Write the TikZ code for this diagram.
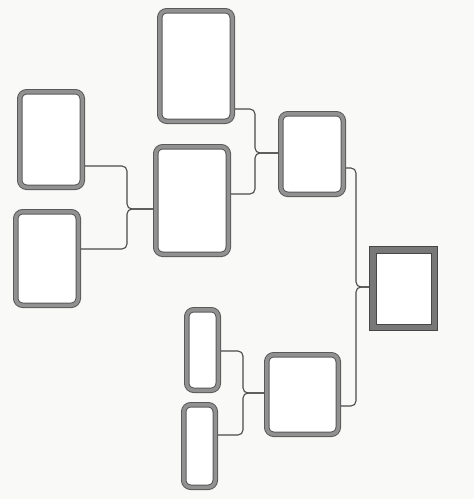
\documentclass[tikz,border=0pt]{standalone}
\definecolor{bgpaper}{RGB}{249,249,248}
\definecolor{edgedark}{RGB}{90,90,90}
\definecolor{edgemid}{RGB}{145,145,145}
\definecolor{framedark}{RGB}{70,70,70}
\definecolor{framemid}{RGB}{120,120,120}
\definecolor{linedark}{RGB}{75,75,75}
\begin{document}
\begin{tikzpicture}[x=1pt,y=-1pt,
  card/.style={draw=edgedark, line width=1pt, double=edgemid, double distance=3.5pt,
    rounded corners=7pt, inner sep=0pt, outer sep=2.75pt, fill=white},
  framebox/.style={draw=framedark, line width=1pt, double=framemid, double distance=5.5pt,
    inner sep=0pt, outer sep=3.75pt, fill=white},
  conn/.style={draw=linedark, line width=1.1pt, rounded corners=5pt}]
\fill[bgpaper] (0,0) rectangle (474,499);
\useasboundingbox (0,0) rectangle (474,499);
% boxes
\node[card, minimum width=62.5pt, minimum height=95.5pt] (A) at (51,139.5) {};
\node[card, minimum width=62.5pt, minimum height=93.5pt] (B) at (47,258.5) {};
\node[card, minimum width=72.5pt, minimum height=110.5pt] (C) at (196,66) {};
\node[card, minimum width=72.5pt, minimum height=107.5pt] (D) at (192,200.5) {};
\node[card, minimum width=62.5pt, minimum height=80.5pt] (E) at (312,154) {};
\node[framebox, minimum width=61.5pt, minimum height=77.5pt] (F) at (403.5,288.5) {};
\node[card, minimum width=31.5pt, minimum height=80.5pt] (G) at (202.5,350) {};
\node[card, minimum width=31.5pt, minimum height=82.5pt] (H) at (199.5,446) {};
\node[card, minimum width=71.5pt, minimum height=79.5pt] (I) at (302.5,394.5) {};
% bracket junctions
\coordinate (b1t) at (127,166); \coordinate (b1m) at (127,209); \coordinate (b1b) at (127,249);
\coordinate (b2t) at (255,109); \coordinate (b2m) at (255,153); \coordinate (b2b) at (255,194);
\coordinate (b3t) at (356,168); \coordinate (b3m) at (356,287); \coordinate (b3b) at (356,406);
\coordinate (b4t) at (243,351); \coordinate (b4m) at (243,393); \coordinate (b4b) at (243,435);
% connectors
\draw[conn] (A.east |- b1t) -- (b1t) -- (b1m) -- (D.west |- b1m);
\draw[conn] (B.east |- b1b) -- (b1b) -- (b1m) -- (D.west |- b1m);
\draw[conn] (C.east |- b2t) -- (b2t) -- (b2m) -- (E.west |- b2m);
\draw[conn] (D.east |- b2b) -- (b2b) -- (b2m) -- (E.west |- b2m);
\draw[conn] (E.east |- b3t) -- (b3t) -- (b3m) -- (F.west |- b3m);
\draw[conn] (I.east |- b3b) -- (b3b) -- (b3m) -- (F.west |- b3m);
\draw[conn] (G.east |- b4t) -- (b4t) -- (b4m) -- (I.west |- b4m);
\draw[conn] (H.east |- b4b) -- (b4b) -- (b4m) -- (I.west |- b4m);
\end{tikzpicture}
\end{document}
